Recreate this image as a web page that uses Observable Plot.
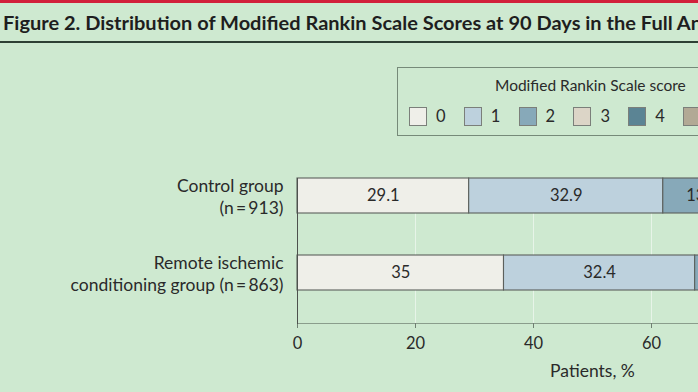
<!DOCTYPE html>
<html>
<head>
<meta charset="utf-8">
<script src="https://cdn.jsdelivr.net/npm/d3@7"></script>
<script src="https://cdn.jsdelivr.net/npm/@observablehq/plot@0.6"></script>
<style>
  html, body { margin: 0; padding: 0; }
  body { width: 698px; height: 392px; overflow: hidden; }
  #wrap { position: relative; width: 698px; height: 392px; overflow: hidden; background: #cee9d0; font-family: Lato, "Open Sans", sans-serif; color: #2a2a2a; }
  #redbar { position: absolute; left: 0; top: 0; width: 698px; height: 3px; background: #d2203b; }
  #title { position: absolute; left: 3px; top: 11px; font-size: 19.5px; font-weight: 700; white-space: nowrap; color: #1e1e1e; transform-origin: 0 0; line-height: 24px; }
  #rule { position: absolute; left: 0; top: 41px; width: 698px; height: 2px; background: #2e4034; }
  #chart { position: absolute; left: 0; top: 44px; width: 930px; height: 348px; }
  #chart svg { max-width: none !important; width: 930px !important; height: 348px !important; }
  #legend { position: absolute; left: 397px; top: 67px; width: 520px; height: 69px; border: 1.5px solid #768a79; box-sizing: border-box; }
  #legend .lt { position: absolute; left: 97px; top: 8px; font-size: 15.5px; white-space: nowrap; color: #2a2a2a; }
  #legend .sw { position: absolute; top: 39px; width: 18px; height: 19px; box-sizing: border-box; border: 1px solid #7b7f7a; }
  #legend .sl { position: absolute; top: 38px; font-size: 16.5px; line-height: 20px; color: #2a2a2a; }
</style>
</head>
<body>
<div id="wrap">
  <div id="redbar"></div>
  <div id="title"></div>
  <div id="rule"></div>
  <div id="chart"></div>
  <div id="legend"></div>
</div>
<script>
// ---- data ----
const titleText = "Figure 2. Distribution of Modified Rankin Scale Scores at 90 Days in the Full Analysis Set";
const groups = ["Control group", "Remote ischemic conditioning group"];
const groupLabels = ["Control group\n(n\u2009=\u2009913)", "Remote ischemic\nconditioning group (n\u2009=\u2009863)"];
const scores = ["0", "1", "2", "3", "4", "5", "6"];
const controlValues = [29.1, 32.9, 13.3, 10.5, 7.9, 3.6, 2.7];
const ricValues = [35, 32.4, 12.2, 8.8, 6.6, 2.8, 2.2];
const scoreColors = ["#efefe9", "#bdd1dd", "#87a9b9", "#dcd5c7", "#5b8494", "#b2a995", "#6e6b5f"];
const xTicks = [0, 20, 40, 60, 80, 100];
const legendTitle = "Modified Rankin Scale score";
const axisLabel = "Patients, %";

// ---- title ----
const titleEl = document.getElementById("title");
titleEl.textContent = titleText;
(function fitTitle() {
  const c = document.createElement("canvas").getContext("2d");
  c.font = "700 19.5px Lato, 'Open Sans', sans-serif";
  const w = c.measureText("Figure 2. Distribution of Modified Rankin Scale Scores at 90 Days in the Full An").width;
  titleEl.style.transform = `scaleX(${(700 / w).toFixed(4)})`;
})();

// ---- legend ----
const legend = document.getElementById("legend");
legend.innerHTML = `<div class="lt">${legendTitle}</div>` +
  scores.map((s, i) => {
    const left = 11 + i * 54.8;
    return `<div class="sw" style="left:${left}px;background:${scoreColors[i]}"></div>` +
           `<div class="sl" style="left:${left + 27}px">${s}</div>`;
  }).join("");

// ---- table ----
const rows = [];
groups.forEach((g, gi) => {
  const vals = gi === 0 ? controlValues : ricValues;
  scores.forEach((s, si) => rows.push({group: g, score: s, value: vals[si]}));
});
const cumC = d3.cumsum(controlValues).slice(0, -1);
const cumR = d3.cumsum(ricValues).slice(0, -1);
const links = cumC.map((c, i) => ({x1: c, x2: cumR[i]}));

// ---- y band geometry ----
const yRange = [134, 246.5];
const yPad = 0.545;
const bw = (yRange[1] - yRange[0]) / (groups.length - yPad) * (1 - yPad);

// custom curve: connects bottom edge of first band to top edge of second
function edgeCurve(context) {
  let pts = [];
  return {
    areaStart() {}, areaEnd() {},
    lineStart() { pts = []; },
    point(x, y) { pts.push([x, y]); },
    lineEnd() {
      const [a, b] = pts;
      context.moveTo(a[0], a[1] + bw / 2);
      context.lineTo(b[0], b[1] - bw / 2);
    }
  };
}

const plot = Plot.plot({
  width: 930,
  height: 348,
  marginLeft: 297,
  marginRight: 43,
  marginTop: 134,
  marginBottom: 69,
  style: {background: "transparent", fontFamily: "Lato, 'Open Sans', sans-serif", fontSize: "16.5px", color: "#2a2a2a", maxWidth: "none"},
  x: {domain: [0, 100], ticks: xTicks, label: null},
  y: {domain: groups, range: yRange, paddingInner: yPad, paddingOuter: 0, axis: null},
  color: {domain: scores, range: scoreColors},
  marks: [
    Plot.gridX({ticks: xTicks.slice(1), stroke: "#eaf5ea", strokeOpacity: 0.9, strokeWidth: 1}),
    Plot.frame({anchor: "bottom", stroke: "#8a9d8c", strokeWidth: 1}),
    Plot.axisX({ticks: xTicks, tickSize: 5, tickPadding: 9, stroke: "#6f7f71", fontSize: 16.5, fill: "#2a2a2a", label: null}),
    Plot.barX(rows, {x: "value", y: "group", fill: "score", stroke: "#5c605c", strokeWidth: 1.1}),
    Plot.text(rows.filter(d => d.value >= 5), Plot.stackX({x: "value", y: "group", z: "group", text: d => String(d.value), fill: "#2a2a2a", fontSize: 16.5})),
    Plot.link(links, {x1: "x1", x2: "x2", y1: () => groups[0], y2: () => groups[1], curve: edgeCurve, stroke: "#4f5a52", strokeWidth: 1.3, strokeDasharray: "1.3,2.2"}),
    Plot.frame({anchor: "left", stroke: "#4d514d", strokeWidth: 1}),
    Plot.text(groups, {y: d => d, text: (d, i) => groupLabels[i], frameAnchor: "left", textAnchor: "end", dx: -14, lineHeight: 1.25, fontSize: 17.5, fill: "#2a2a2a"}),
    Plot.text([axisLabel], {text: d => d, frameAnchor: "bottom", dy: 53, fontSize: 17.5, fill: "#2a2a2a"})
  ]
});
document.getElementById("chart").appendChild(plot);
</script>
</body>
</html>
